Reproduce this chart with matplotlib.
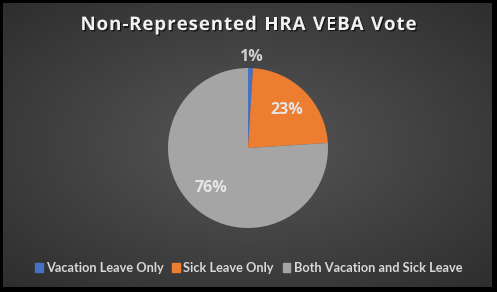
import numpy as np
import matplotlib.pyplot as plt
import matplotlib.patheffects as pe

labels = ['Vacation Leave Only', 'Sick Leave Only', 'Both Vacation and Sick Leave']
values = [1, 23, 76]
colors = ['#4472C4', '#ED7D31', '#A5A5A5']
title = 'Non-Represented HRA VEBA Vote'

W, H = 497, 292
fig = plt.figure(figsize=(W / 100, H / 100), dpi=100)
fig.patch.set_facecolor('black')

# radial gradient background inside black frame
bg = fig.add_axes([3 / W, 5 / H, (W - 8) / W, (H - 8) / H])
yy, xx = np.mgrid[-1:1:300j, -1:1:500j]
r = np.sqrt(xx ** 2 + yy ** 2) / np.sqrt(2)
g = 0.34 - 0.16 * r
img = np.dstack([g, g, g])
bg.imshow(img, aspect='auto', extent=[0, 1, 0, 1])
bg.axis('off')

ax = fig.add_axes([248 / W - 80 / W, 1 - 148 / H - 80 / H, 160 / W, 160 / H])
ax.set_facecolor('none')
wedges, texts, autotexts = ax.pie(values, colors=colors, startangle=90, counterclock=False,
                                  autopct='%1.0f%%', pctdistance=0.68,
                                  textprops=dict(color='#e6e6e6', fontsize=11.5, fontweight='bold',
                                                 family='Open Sans'))
# move the tiny slice label outside the pie
w0 = wedges[0]
mid = np.deg2rad((w0.theta1 + w0.theta2) / 2)
autotexts[0].set_position((1.14 * np.cos(mid), 1.14 * np.sin(mid)))
autotexts[0].set_color('#d0d0d0')
ax.set_xlim(-1, 1)
ax.set_ylim(-1, 1)
ax.set_aspect('equal')

# title with a bit of letter spacing, drawn char by char
renderer = fig.canvas.get_renderer()
tkw = dict(color='#f2f2f2', fontsize=13.5, fontweight='bold', family='Open Sans', va='center',
           path_effects=[pe.withSimplePatchShadow(offset=(1, -1), shadow_rgbFace='black', alpha=0.6)])
spacing = 0.9  # px
widths = []
for ch in title:
    t = fig.text(0, 0, ch.replace(' ', '\u00a0') if ch != ' ' else 'n', **tkw)
    w = t.get_window_extent(renderer).width
    if ch == ' ':
        w *= 0.45
    widths.append(w)
    t.remove()
total = sum(widths) + spacing * (len(title) - 1)
x = W / 2 - total / 2
for ch, w in zip(title, widths):
    if ch != ' ':
        fig.text(x / W, 1 - 25 / H, ch, **tkw)
    x += w + spacing

handles = [plt.Rectangle((0, 0), 1, 1, color=c) for c in colors]
fig.legend(handles, labels, loc='center', bbox_to_anchor=(0.5, 1 - 268 / H), ncol=3,
           frameon=False, handlelength=0.6, handleheight=0.6, handletextpad=0.25,
           columnspacing=0.7, prop=dict(family='Lato', size=9.2, weight='bold'),
           labelcolor='#d9d9d9')

fig.savefig('out.png', dpi=100, facecolor=fig.get_facecolor())
